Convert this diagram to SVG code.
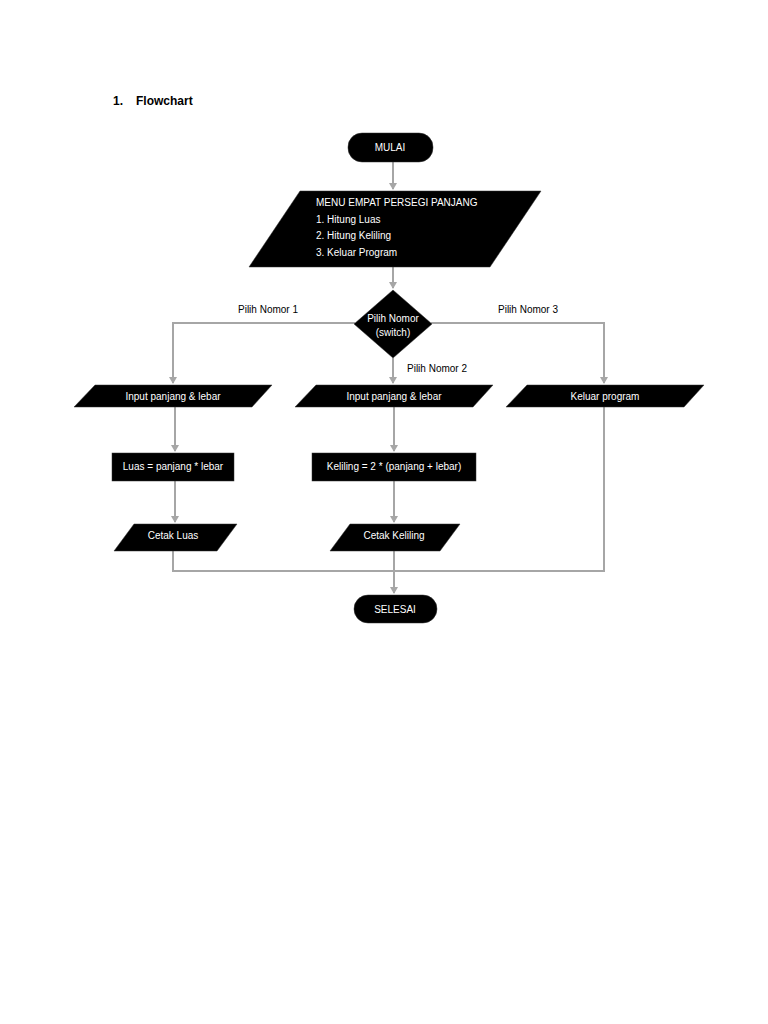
<svg xmlns="http://www.w3.org/2000/svg" width="768" height="1024" viewBox="0 0 768 1024">
<style>
.s{fill:#000;stroke:#333;stroke-width:0.5}
.t{font-family:"Liberation Sans",Arial,sans-serif;font-size:10px;fill:#fff;text-anchor:middle}
.l{font-family:"Liberation Sans",Arial,sans-serif;font-size:10px;fill:#000;text-anchor:middle}
.c{fill:none;stroke:#a6a6a6;stroke-width:2}
</style>
<defs><marker id="a" markerWidth="8" markerHeight="8" refX="6" refY="4" orient="auto" markerUnits="userSpaceOnUse"><path d="M0,0 L7,4 L0,8 z" fill="#a6a6a6"/></marker></defs>
<rect width="768" height="1024" fill="#fff"/>
<text x="113" y="105" font-family="Liberation Sans,Arial,sans-serif" font-size="12" font-weight="bold">1.</text>
<text x="136" y="105" font-family="Liberation Sans,Arial,sans-serif" font-size="12" font-weight="bold">Flowchart</text>
<g id="connectors">
<path class="c" d="M393,162 V189" marker-end="url(#a)"/>
<path class="c" d="M393,267 V288" marker-end="url(#a)"/>
<path class="c" d="M355,323 H173 V383" marker-end="url(#a)"/>
<path class="c" d="M431,323 H604 V383" marker-end="url(#a)"/>
<path class="c" d="M393,358 V383" marker-end="url(#a)"/>
<path class="c" d="M175,407 V451" marker-end="url(#a)"/>
<path class="c" d="M175,481 V522" marker-end="url(#a)"/>
<path class="c" d="M394,407 V451" marker-end="url(#a)"/>
<path class="c" d="M394,481 V522" marker-end="url(#a)"/>
<path class="c" d="M173,551 V571 H604 V407"/>
<path class="c" d="M394,551 V593" marker-end="url(#a)"/>
<text class="l" x="268" y="313">Pilih Nomor 1</text>
<text class="l" x="528" y="313">Pilih Nomor 3</text>
<text class="l" x="437" y="372">Pilih Nomor 2</text>
</g>
<g id="mulai"><rect class="s" x="348" y="133" width="85" height="29" rx="14"/><text class="t" x="390" y="151">MULAI</text></g>
<g id="menu"><polygon class="s" points="300,191 541,191 490,267 249,267"/>
<text class="t" style="text-anchor:start" x="316" y="206">MENU EMPAT PERSEGI PANJANG</text>
<text class="t" style="text-anchor:start" x="316" y="223">1. Hitung Luas</text>
<text class="t" style="text-anchor:start" x="316" y="239">2. Hitung Keliling</text>
<text class="t" style="text-anchor:start" x="316" y="256">3. Keluar Program</text></g>
<g id="pilih"><polygon class="s" points="393,290 432,324 393,358 354,324"/><text class="t" x="393" y="322">Pilih Nomor</text><text class="t" x="393" y="336">(switch)</text></g>
<g id="in1"><polygon class="s" points="95,385 272,385 252,407 74,407"/><text class="t" x="173" y="400">Input panjang &amp; lebar</text></g>
<g id="in2"><polygon class="s" points="316,385 493,385 473,407 295,407"/><text class="t" x="394" y="400">Input panjang &amp; lebar</text></g>
<g id="keluar"><polygon class="s" points="527,385 704,385 684,407 506,407"/><text class="t" x="605" y="400">Keluar program</text></g>
<g id="luas"><rect class="s" x="112" y="453" width="122" height="28"/><text class="t" x="173" y="470">Luas = panjang * lebar</text></g>
<g id="kel"><rect class="s" x="312" y="453" width="164" height="28"/><text class="t" x="394" y="470">Keliling = 2 * (panjang + lebar)</text></g>
<g id="cetak1"><polygon class="s" points="134,524 237,524 217,551 114,551"/><text class="t" x="173" y="539">Cetak Luas</text></g>
<g id="cetak2"><polygon class="s" points="350,524 460,524 440,551 330,551"/><text class="t" x="394" y="539">Cetak Keliling</text></g>
<g id="selesai"><rect class="s" x="354" y="595" width="83" height="28" rx="14"/><text class="t" x="395" y="613">SELESAI</text></g>
</svg>
